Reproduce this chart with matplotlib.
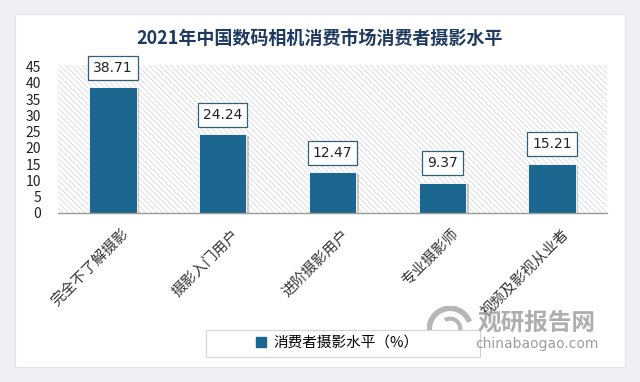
import matplotlib
matplotlib.use("Agg")
import matplotlib.pyplot as plt
import matplotlib.patheffects as pe
import matplotlib.transforms as mtrans
from matplotlib.patches import Rectangle, Arc

plt.rcParams['font.family'] = ['Noto Sans CJK SC', 'DejaVu Sans']

categories = ['完全不了解摄影', '摄影入门用户', '进阶摄影用户', '专业摄影师', '视频及影视从业者']
values = [38.71, 24.24, 12.47, 9.37, 15.21]
yticks = [0, 5, 10, 15, 20, 25, 30, 35, 40, 45]
title = '2021年中国数码相机消费市场消费者摄影水平'
series_name = '消费者摄影水平（%）'

bar_color = '#1b6790'
box_edge = '#2f5f7a'

plt.rcParams['hatch.color'] = '#d8dadd'
plt.rcParams['hatch.linewidth'] = 0.6

fig = plt.figure(figsize=(6.4, 3.82), dpi=100)
fig.patch.set_facecolor('#eef0f3')

# white card
card = Rectangle((15 / 640, 1 - 367 / 382), 610 / 640, 353 / 382,
                 transform=fig.transFigure, facecolor='white', edgecolor='#e2e4e8',
                 linewidth=0.8, zorder=-5)
fig.patches.append(card)

fig.text(0.5, 1 - 38 / 382, title, ha='center', va='center', fontsize=13,
         color='#1f3a60', fontweight='semibold')

ax = fig.add_axes([58 / 640, 1 - 213 / 382, 549 / 640, 148 / 382])
ax.set_facecolor('none')
ax.set_xlim(-0.5, 4.5)
ax.set_ylim(0, 45.5)

# hatched background
bg = Rectangle((-0.5, 0), 5, 45.5, facecolor='white', edgecolor='#d8dadd',
               linewidth=0, hatch='\\\\\\\\\\\\', zorder=0)
ax.add_patch(bg)

x = list(range(len(categories)))
bars = ax.bar(x, values, width=0.43, color=bar_color, zorder=3,
              edgecolor='white', linewidth=0.6)
for b in bars:
    b.set_path_effects([pe.SimplePatchShadow(offset=(2, -1), shadow_rgbFace='#9a9a9a', alpha=0.5),
                        pe.Normal()])

for xi, v in zip(x, values):
    ax.annotate(f'{v:.2f}', (xi, v), xytext=(0, 14), textcoords='offset points',
                ha='center', va='center', fontsize=10, color='#222222',
                family=['DejaVu Sans'],
                bbox=dict(boxstyle='square,pad=0.35', facecolor='white',
                          edgecolor=box_edge, linewidth=0.9), zorder=5)

ax.set_yticks(yticks)
ax.set_yticklabels([str(t) for t in yticks], fontsize=10, color='#222222')
ax.set_xticks(x)
ax.set_xticklabels([])

# rotated category labels, nudged right/down like the original
shift = mtrans.ScaledTranslation(9 / 100, -14 / 100, fig.dpi_scale_trans)
for xi, cat in zip(x, categories):
    ax.text(xi, 0, cat, transform=ax.get_xaxis_transform() + shift,
            rotation=45, ha='right', va='top', rotation_mode='anchor',
            fontsize=10.5, color='#333333')

ax.tick_params(axis='both', length=0)
ax.tick_params(axis='y', pad=12)
for s in ['top', 'right', 'left']:
    ax.spines[s].set_visible(False)
ax.spines['bottom'].set_color('#9a9a9a')
ax.spines['bottom'].set_linewidth(1)
ax.spines['bottom'].set_zorder(4)

# legend
legbox = Rectangle((206 / 640, 1 - 357 / 382), 274 / 640, 27 / 382,
                   transform=fig.transFigure, facecolor='white',
                   edgecolor='#d0d3d8', linewidth=0.8, zorder=1)
fig.patches.append(legbox)
leg = fig.legend([Rectangle((0, 0), 1, 1, color=bar_color)], [series_name],
                 loc='center', bbox_to_anchor=(337 / 640, 1 - 343 / 382),
                 frameon=False, fontsize=10.5, handlelength=0.7,
                 handleheight=0.7, handletextpad=0.5, borderaxespad=0)

# watermark
wm = fig.add_axes([427 / 640, 1 - 352 / 382, 46 / 640, 46 / 382])
wm.set_xlim(-1, 1)
wm.set_ylim(-1, 1)
wm.set_aspect('equal')
wm.axis('off')
wm.add_patch(Arc((0, 0), 1.8, 1.8, theta1=20, theta2=300, color='#b5b7ba', lw=4))
wm.add_patch(Arc((0, 0), 0.9, 0.9, theta1=200, theta2=480, color='#b5b7ba', lw=3))
fig.text(537 / 640, 1 - 323 / 382, '观研报告网', ha='center', va='center',
         fontsize=17, color='#9ea0a3', fontweight='bold', alpha=0.85)
fig.text(537 / 640, 1 - 344 / 382, 'chinabaogao.com', ha='center', va='center',
         fontsize=10, color='#8a8c8f', alpha=0.85, family=['DejaVu Sans'])

fig.savefig('out.png', dpi=100, facecolor=fig.get_facecolor())
